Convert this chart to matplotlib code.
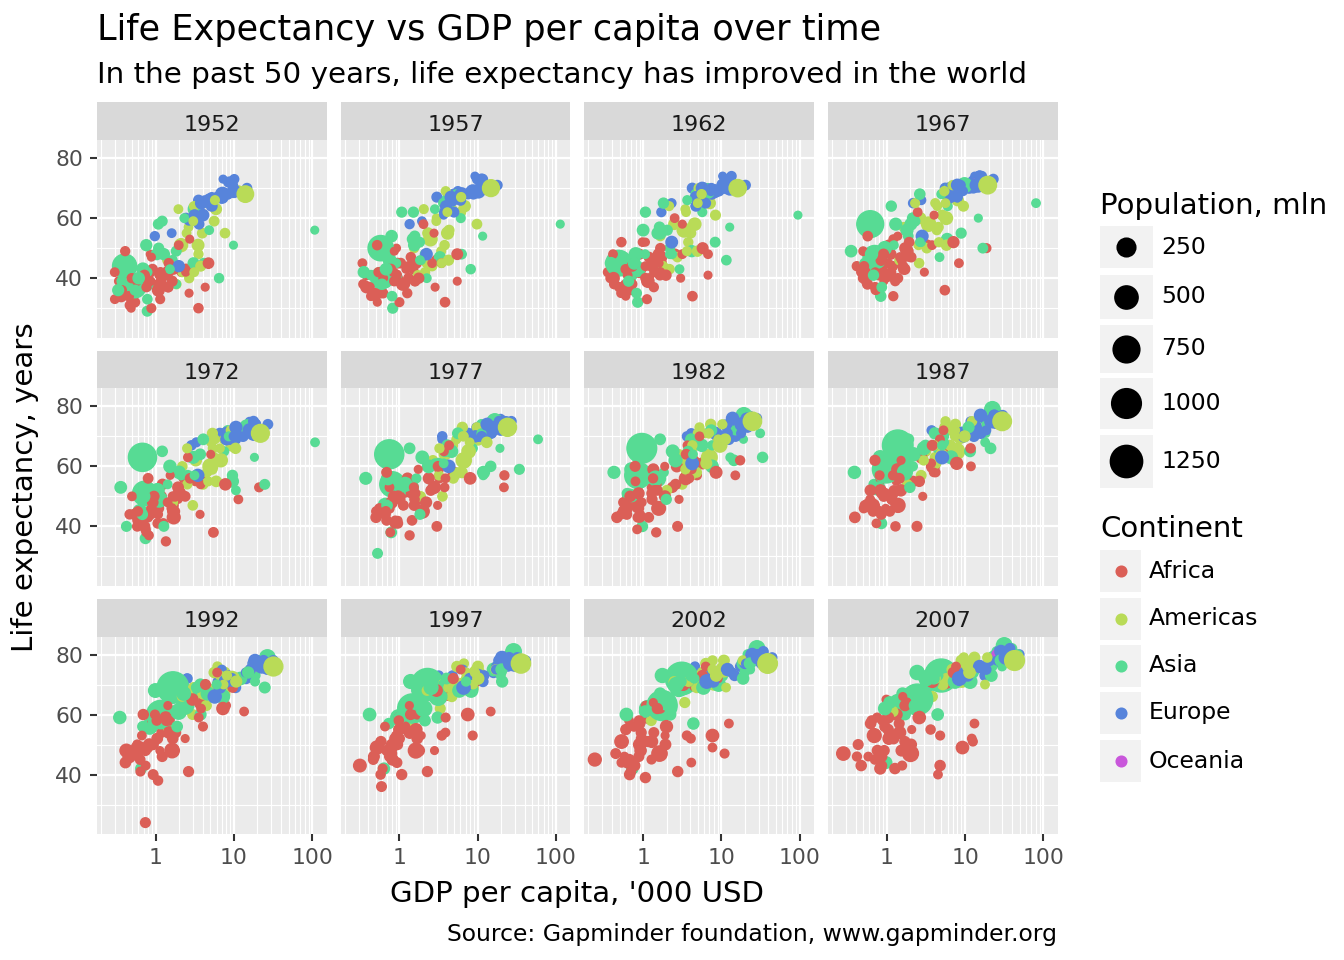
import numpy as np
import matplotlib
matplotlib.use("Agg")
import matplotlib.pyplot as plt
from matplotlib.patches import Rectangle

years = [1952, 1957, 1962, 1967, 1972, 1977, 1982, 1987, 1992, 1997, 2002, 2007]
continent_names = ["Africa", "Americas", "Asia", "Europe", "Oceania"]
continent_colors = ["#db5f57", "#b9db57", "#57db94", "#5784db", "#c957db"]
pop_breaks = [250, 500, 750, 1000, 1250]
x_breaks = [1, 10, 100]
x_labels = ["1", "10", "100"]
y_breaks = [40, 60, 80]

# ---------------- Africa ----------------
africa_countries = ["Algeria", "Angola", "Benin", "Botswana", "Burkina Faso", "Burundi", "Cameroon",
    "Central African Republic", "Chad", "Comoros", "Congo, Dem. Rep.", "Congo, Rep.", "Cote d'Ivoire",
    "Djibouti", "Egypt", "Equatorial Guinea", "Eritrea", "Ethiopia", "Gabon", "Gambia", "Ghana", "Guinea",
    "Guinea-Bissau", "Kenya", "Lesotho", "Liberia", "Libya", "Madagascar", "Malawi", "Mali", "Mauritania",
    "Mauritius", "Morocco", "Mozambique", "Namibia", "Niger", "Nigeria", "Reunion", "Rwanda",
    "Sao Tome and Principe", "Senegal", "Sierra Leone", "Somalia", "South Africa", "Sudan", "Swaziland",
    "Tanzania", "Togo", "Tunisia", "Uganda", "Zambia", "Zimbabwe"]
africa_life = [
    [43,46,48,51,55,58,61,66,68,69,71,72], [30,32,34,36,38,40,40,40,41,41,41,43],
    [38,40,43,45,47,49,51,52,54,55,54,57], [48,50,52,53,56,59,62,64,63,53,47,51],
    [32,35,38,41,44,46,48,50,50,50,51,52], [39,41,42,44,44,46,48,48,45,45,47,50],
    [39,40,43,45,47,49,53,55,54,52,50,50], [36,38,40,42,44,47,48,51,49,46,43,45],
    [38,40,42,44,46,47,50,51,52,52,51,51], [41,43,45,47,49,51,53,55,58,61,63,65],
    [39,41,42,44,46,48,48,47,46,43,45,47], [42,45,48,52,55,56,57,58,56,53,53,55],
    [41,43,45,47,50,52,54,55,52,48,47,48], [35,37,40,42,44,47,49,50,52,53,53,55],
    [42,44,47,49,51,53,56,60,64,67,70,71], [35,36,38,39,41,42,44,46,48,48,49,52],
    [36,38,40,42,44,45,44,47,50,53,56,58], [34,37,40,42,44,45,45,47,48,49,51,53],
    [37,39,41,45,49,53,57,60,61,61,57,57], [30,32,34,36,38,42,46,49,53,56,58,59],
    [43,45,47,48,50,52,54,56,58,59,59,60], [34,35,36,37,39,41,43,45,49,52,54,56],
    [33,34,35,36,37,38,39,41,43,45,46,46], [42,45,48,51,54,56,59,59,59,54,51,54],
    [42,45,48,49,50,53,55,57,60,56,45,43], [39,40,41,42,43,44,45,46,41,42,44,46],
    [43,45,48,50,53,57,62,66,69,71,73,74], [37,39,41,43,45,47,49,49,52,55,57,59],
    [36,37,38,40,42,44,46,48,49,48,45,48], [34,35,37,39,40,42,44,46,48,50,52,55],
    [41,42,44,46,48,51,54,56,58,60,62,64], [51,58,60,62,63,65,67,69,70,71,72,73],
    [43,45,48,50,53,56,60,63,65,68,70,71], [31,34,36,38,40,43,43,43,44,46,44,42],
    [42,45,48,51,54,56,59,61,62,59,52,53], [37,39,40,40,41,41,43,45,47,51,55,57],
    [36,38,39,41,43,45,46,47,48,48,47,47], [53,55,58,61,64,67,70,72,74,75,76,76],
    [40,42,43,44,45,45,46,44,24,36,43,46], [47,49,52,54,57,59,60,62,63,63,64,66],
    [37,39,42,44,46,49,52,56,58,60,62,63], [30,32,33,34,35,37,38,40,38,40,41,43],
    [33,35,37,39,41,42,43,45,40,44,46,48], [45,48,50,52,54,56,58,61,62,60,53,49],
    [39,40,41,43,45,48,50,52,54,55,56,59], [41,43,45,47,50,53,56,58,59,54,44,40],
    [41,43,44,46,48,50,51,52,50,49,50,53], [39,41,44,47,50,53,56,57,58,58,58,58],
    [45,47,50,52,56,60,64,67,70,72,73,74], [40,43,45,48,50,50,50,52,49,45,48,52],
    [42,44,46,48,50,51,52,51,46,40,39,42], [49,51,52,54,56,58,60,62,60,47,40,43]]
africa_gdp = [
    [2450,3010,2550,3250,4180,4910,5750,5680,5020,4800,5290,6220],
    [3520,3830,4270,5520,5470,3010,2760,2430,2630,2280,2770,4800],
    [1060,960,949,1040,1090,1030,1280,1230,1190,1230,1370,1440],
    [851,918,984,1210,2260,3210,4550,6210,7950,8650,11000,12600],
    [543,617,723,795,855,743,807,912,931,946,1040,1220],
    [339,380,355,413,464,556,560,622,632,463,446,430],
    [1170,1310,1400,1510,1680,1780,2370,2600,1790,1690,1930,2040],
    [1070,1190,1190,1140,1070,1110,957,845,748,741,739,706],
    [1180,1310,1390,1200,1100,1130,798,952,1060,1000,1160,1700],
    [1100,1210,1410,1880,1940,1170,1270,1320,1250,1170,1080,986],
    [781,906,896,862,905,796,674,673,458,312,241,278],
    [2130,2320,2460,2680,3210,3260,4880,4200,4020,3480,3630,3630],
    [1390,1500,1730,2050,2380,2520,2600,2160,1650,1790,1650,1540],
    [2670,2860,3020,3020,3690,3080,2880,2880,2380,1900,1910,2080],
    [1420,1460,1690,1820,2020,2790,3500,3890,3790,4170,4750,5580],
    [376,426,582,915,672,959,928,966,1130,2810,7700,12200],
    [329,344,381,469,514,505,524,521,582,913,765,641],
    [362,379,419,516,566,556,577,574,421,516,530,691],
    [4290,5490,6760,8360,11400,21700,15100,11900,13500,14700,12500,13200],
    [485,521,600,735,757,884,835,612,665,653,661,753],
    [911,1040,1190,1130,1180,993,876,848,925,1010,1110,1330],
    [510,576,686,708,741,874,857,805,794,870,945,943],
    [300,432,522,716,820,765,838,736,745,797,576,580],
    [854,944,897,1060,1220,1270,1350,1360,1340,1360,1290,1460],
    [299,336,412,498,497,746,798,808,977,1190,1280,1570],
    [575,620,634,714,803,640,573,507,637,610,531,415],
    [2390,3450,6760,18800,21000,22000,17400,11800,9640,9470,9530,12100],
    [1440,1590,1640,1630,1750,1540,1300,1160,1040,986,895,1040],
    [369,416,427,496,585,663,633,635,563,692,665,759],
    [452,490,497,545,581,686,618,684,739,790,952,1040],
    [744,837,1220,1550,1420,1390,1490,1470,1510,1680,1660,1800],
    [1970,2030,2530,2480,2580,3710,3690,4780,6060,7430,9020,11000],
    [1690,1640,1570,1710,1930,2370,2700,2760,2950,2980,3260,3820],
    [469,495,556,566,724,502,462,390,410,472,633,824],
    [2420,2620,3170,3790,3750,3880,4190,3690,3800,3900,4070,4810],
    [762,860,1070,1390,1060,953,909,668,582,580,601,620],
    [1080,1100,1150,1010,1700,1980,1580,1390,1620,1620,1620,2010],
    [2720,2770,3170,4020,5050,4320,5270,5300,6100,6070,6320,7670],
    [493,540,597,511,591,670,882,848,737,590,786,863],
    [880,861,1070,1380,1530,1740,1890,1520,1430,1340,1350,1600],
    [1450,1570,1650,1610,1600,1560,1520,1440,1370,1390,1520,1710],
    [879,1000,1120,1210,1350,1350,1470,1290,1070,575,699,863],
    [1140,1260,1370,1280,1250,1450,1180,1090,927,930,882,926],
    [4730,5490,5770,7110,7770,8030,8570,7830,7230,7480,7710,9270],
    [1620,1770,1960,1690,1660,2200,1900,1510,1490,1630,1990,2600],
    [1150,1240,1600,1710,2310,3780,3900,3980,3550,3880,4130,4510],
    [717,698,722,849,916,962,875,831,825,790,899,1110],
    [859,925,1070,1480,1650,1530,1340,1200,1030,982,886,883],
    [1470,1400,1660,1930,2750,3120,3560,3810,4330,4880,5720,7090],
    [735,774,768,909,950,844,682,618,645,817,928,1060],
    [1150,1310,1450,1780,1770,1590,1410,1210,1210,1070,1070,1270],
    [407,519,527,570,800,686,789,706,693,792,672,470]]
africa_pop = [
    [9,10,11,13,15,17,20,23,26,29,31,33], [4,5,5,5,6,6,7,8,9,10,11,12],
    [2,2,2,2,3,3,4,4,5,6,7,8], [0,0,1,1,1,1,1,1,1,2,2,2],
    [4,5,5,5,6,6,7,8,9,10,12,14], [2,3,3,3,4,4,5,5,6,6,7,8],
    [5,5,6,6,7,8,9,11,12,14,16,18], [1,1,2,2,2,2,2,3,3,4,4,4],
    [3,3,3,3,4,4,5,6,6,8,9,10], [0,0,0,0,0,0,0,0,0,1,1,1],
    [14,16,18,20,23,27,31,36,42,48,55,65], [1,1,1,1,1,2,2,2,2,3,3,4],
    [3,3,4,5,6,8,9,11,13,15,16,18], [0,0,0,0,0,0,0,0,0,0,0,0],
    [22,25,28,32,35,39,46,53,59,66,73,80], [0,0,0,0,0,0,0,0,0,0,1,1],
    [1,2,2,2,2,3,3,3,3,4,4,5], [21,23,25,28,31,35,38,43,52,60,67,77],
    [0,0,0,1,1,1,1,1,1,1,1,1], [0,0,0,0,1,1,1,1,1,1,1,2],
    [6,6,7,9,9,11,12,14,16,18,21,23], [3,3,3,4,4,5,5,6,7,8,9,10],
    [1,1,1,1,1,1,1,1,1,1,1,1], [6,7,9,10,12,15,18,21,25,28,31,36],
    [1,1,1,1,1,1,1,2,2,2,2,2], [1,1,1,1,2,2,2,2,2,2,3,3],
    [1,1,1,2,2,3,3,4,5,5,6,6], [5,5,6,6,7,8,9,11,12,14,17,19],
    [3,3,4,4,5,6,7,8,10,10,11,13], [4,4,4,5,5,6,7,8,8,10,11,12],
    [1,1,1,1,1,1,2,2,2,2,3,3], [1,1,1,1,1,1,1,1,1,1,1,1],
    [10,11,13,15,16,18,20,22,25,28,31,34], [6,7,8,8,9,11,12,14,14,17,18,20],
    [0,1,1,1,1,1,1,1,1,2,2,2], [3,4,4,4,5,6,6,7,8,10,11,13],
    [33,37,42,47,54,62,73,82,93,106,120,135], [0,0,0,0,0,1,1,1,1,1,1,1],
    [3,3,3,3,4,5,6,7,8,7,8,9], [0,0,0,0,0,0,0,0,0,0,0,0],
    [3,3,3,4,4,5,6,7,8,9,10,12], [2,2,2,3,3,3,3,4,4,4,5,6],
    [2,3,3,3,4,5,6,6,7,7,8,9], [14,16,18,21,24,27,31,36,40,43,44,44],
    [9,10,11,13,15,17,20,24,29,33,37,42], [0,0,0,0,0,1,1,1,1,1,1,1],
    [8,9,10,12,14,17,20,23,26,31,35,38], [1,1,1,2,2,2,3,3,4,4,5,5],
    [4,4,4,5,5,6,7,8,8,9,10,10], [6,7,8,9,10,12,13,16,19,21,25,29],
    [3,3,3,4,5,5,6,7,8,10,11,12], [3,4,4,5,6,7,8,9,11,12,12,12]]

# ---------------- Americas ----------------
americas_countries = ["Argentina", "Bolivia", "Brazil", "Canada", "Chile", "Colombia", "Costa Rica", "Cuba",
    "Dominican Republic", "Ecuador", "El Salvador", "Guatemala", "Haiti", "Honduras", "Jamaica", "Mexico",
    "Nicaragua", "Panama", "Paraguay", "Peru", "Puerto Rico", "Trinidad and Tobago", "United States",
    "Uruguay", "Venezuela"]
americas_life = [
    [63,64,65,66,67,69,70,71,72,73,74,75], [40,42,43,45,47,50,54,57,60,62,64,66],
    [51,53,56,58,60,62,63,65,67,69,71,72], [69,70,71,72,73,74,76,77,78,79,80,81],
    [55,56,58,61,63,67,71,73,74,76,78,79], [51,55,58,60,62,64,67,68,68,70,72,73],
    [57,60,63,65,68,71,73,75,76,77,78,79], [59,62,65,68,71,73,74,74,74,76,77,78],
    [46,50,54,57,60,62,64,66,69,70,71,72], [48,51,55,57,59,61,64,67,70,72,74,75],
    [45,49,52,56,58,57,57,63,67,70,71,72], [42,44,47,50,54,56,58,61,63,66,69,70],
    [38,41,44,46,48,50,52,54,55,57,58,61], [42,45,48,51,54,57,61,65,66,68,69,70],
    [59,63,66,68,69,70,71,72,72,72,72,73], [51,55,58,60,62,65,67,70,72,74,75,76],
    [42,45,49,52,55,58,59,62,66,68,71,73], [55,59,62,64,66,69,71,72,73,74,75,76],
    [63,63,64,65,66,66,67,67,68,69,71,72], [44,46,49,51,55,58,61,64,67,68,70,71],
    [64,69,70,71,72,73,74,75,74,75,78,79], [59,62,65,65,66,68,69,70,70,70,69,70],
    [68,70,70,71,71,73,75,75,76,77,77,78], [66,67,68,69,69,70,71,72,73,74,75,76],
    [55,58,61,64,66,68,69,70,71,72,73,74]]
americas_gdp = [
    [5910,6860,7130,8050,9440,10100,9000,9140,9310,11000,8800,12800],
    [2680,2130,2180,2590,2980,3550,3160,2750,2960,3330,3410,3820],
    [2110,2490,3340,3430,4990,6660,7030,7810,6950,7960,8130,9070],
    [11400,12500,13500,16100,19000,22100,22900,26600,26300,29000,33300,36300],
    [3940,4320,4520,5110,5490,4760,5100,5550,7600,10100,10800,13200],
    [2140,2320,2490,2680,3260,3820,4400,4900,5440,6120,5760,7010],
    [2630,2990,3460,4160,5120,5930,5260,5630,6160,6680,7720,9650],
    [5590,6090,5180,5690,5310,6380,7320,7530,5590,5430,6340,8950],
    [1400,1540,1660,1650,2190,2680,2860,2900,3040,3610,4560,6030],
    [3520,3780,4090,4580,5280,6680,7210,6480,7100,7430,5770,6870],
    [3050,3420,3780,4360,4520,5140,4100,4140,4440,5150,5350,5730],
    [2430,2620,2750,3240,4030,4880,4820,4250,4440,4680,4860,5190],
    [1840,1730,1800,1450,1650,1870,2010,1820,1460,1340,1270,1200],
    [2190,2220,2290,2540,2530,3200,3120,3160,3080,3160,3100,3550],
    [2900,4760,5250,6120,7430,6650,6070,6350,7400,7120,7000,7320],
    [3480,4130,4580,5750,6810,7670,9610,8690,9470,9770,10700,12000],
    [3110,3460,3630,4640,4690,5490,3470,2960,2170,2250,2470,2750],
    [2480,2960,3540,4420,5360,5350,7010,7030,6620,7110,7360,9810],
    [1950,2050,2150,2300,2520,3250,4260,4000,4200,4250,3780,4170],
    [3760,4250,4960,5790,5940,6280,6430,5000,4070,5270,5910,7410],
    [3080,3910,5110,6930,9120,9770,10300,12300,14600,17000,18900,19300],
    [3020,4100,5000,5620,6620,7900,9120,7390,7370,8790,11500,18000],
    [14000,14800,16200,19500,21800,24100,25000,29900,32000,35800,39100,43000],
    [5720,6150,5600,5440,5700,6500,6920,7450,8140,9230,7730,10600],
    [7690,9800,8420,9540,10500,13100,11200,9880,10700,10200,8610,11400]]
americas_pop = [
    [18,20,21,23,25,27,29,32,34,36,38,40], [3,3,4,4,5,5,6,7,7,8,9,9],
    [57,66,76,88,101,114,129,143,156,169,180,190], [15,17,19,21,22,24,25,26,29,30,31,33],
    [6,7,8,9,10,11,12,13,14,15,16,16], [12,14,17,19,22,25,28,31,34,37,41,44],
    [1,1,1,2,2,2,2,3,3,3,4,4], [6,7,7,8,9,10,10,10,11,11,11,11],
    [2,3,3,4,4,5,6,7,7,8,9,9], [3,4,5,5,6,7,8,10,11,12,12,14],
    [2,2,3,3,4,4,5,5,5,6,6,7], [3,4,4,5,6,6,7,8,9,10,11,13],
    [3,3,4,4,5,5,6,6,7,7,8,8], [2,2,2,2,3,3,4,5,5,6,7,8],
    [1,1,2,2,2,2,2,2,2,3,3,3], [30,35,41,48,56,64,72,80,88,96,103,109],
    [1,1,2,2,2,3,3,4,4,5,5,6], [1,1,1,1,2,2,2,2,2,3,3,3],
    [1,2,2,2,2,3,3,4,4,5,6,7], [8,9,11,12,14,16,18,20,22,25,27,29],
    [2,2,2,3,3,3,3,4,4,4,4,4], [1,1,1,1,1,1,1,1,1,1,1,1],
    [158,172,187,199,210,220,232,243,257,273,288,301], [2,3,3,3,3,3,3,3,3,3,3,3],
    [5,6,8,9,11,13,15,18,20,22,25,26]]

# ---------------- Asia ----------------
asia_countries = ["Afghanistan", "Bahrain", "Bangladesh", "Cambodia", "China", "Hong Kong, China", "India",
    "Indonesia", "Iran", "Iraq", "Israel", "Japan", "Jordan", "Korea, Dem. Rep.", "Korea, Rep.", "Kuwait",
    "Lebanon", "Malaysia", "Mongolia", "Myanmar", "Nepal", "Oman", "Pakistan", "Philippines", "Saudi Arabia",
    "Singapore", "Sri Lanka", "Syria", "Taiwan", "Thailand", "Vietnam", "West Bank and Gaza", "Yemen, Rep."]
asia_life = [
    [29,30,32,34,36,38,40,41,42,42,42,44], [51,54,57,60,63,66,69,71,73,74,75,76],
    [38,39,41,44,45,47,50,53,56,59,62,64], [39,41,43,45,40,31,51,54,56,57,57,60],
    [44,50,45,58,63,64,66,67,69,70,72,73], [61,65,68,70,72,74,75,76,78,80,82,82],
    [37,40,44,47,51,54,57,59,60,62,63,65], [38,40,43,46,49,53,56,60,63,66,69,71],
    [45,47,49,53,55,58,60,63,66,68,70,71], [45,48,52,55,57,60,62,65,60,59,57,60],
    [65,68,69,71,72,73,74,76,77,78,80,81], [63,66,69,71,73,75,77,79,79,81,82,83],
    [43,46,48,52,57,61,64,66,68,70,71,73], [50,54,57,60,64,67,69,71,70,68,67,67],
    [48,53,55,58,63,65,67,70,72,75,77,79], [56,58,61,65,68,69,71,74,75,76,77,78],
    [56,60,62,64,65,66,67,68,69,70,71,72], [49,52,56,59,63,65,68,70,71,72,73,74],
    [42,45,48,51,54,56,58,60,61,64,65,67], [36,42,45,49,53,56,58,58,59,60,60,62],
    [36,38,39,41,44,47,50,53,56,59,61,64], [38,40,43,47,52,57,63,68,71,73,74,76],
    [43,46,48,50,52,54,56,58,61,62,64,66], [48,51,55,56,58,60,62,64,67,69,70,72],
    [40,43,46,50,54,59,63,66,69,71,72,73], [60,63,66,68,70,71,72,74,76,77,79,80],
    [58,62,62,64,65,66,69,69,70,71,71,72], [46,48,50,54,57,61,65,67,69,72,73,74],
    [59,62,65,68,69,71,72,73,74,75,77,78], [51,54,56,58,60,63,65,66,67,68,69,71],
    [40,43,45,48,50,56,59,63,68,71,73,74], [43,46,48,52,57,61,64,67,70,71,72,73],
    [33,34,35,37,40,44,49,53,56,58,60,63]]
asia_gdp = [
    [779,821,853,836,740,786,978,852,649,635,727,975],
    [9870,11600,12800,14800,18300,19300,19200,18500,19000,20300,23400,29800],
    [684,662,686,721,630,660,677,752,837,973,1140,1390],
    [368,434,497,523,422,525,624,684,682,734,896,1710],
    [400,576,488,613,677,741,962,1380,1660,2290,3120,4960],
    [3050,3630,4690,6200,8320,11200,14600,20000,24800,28400,30200,39700],
    [547,590,658,700,724,813,856,977,1160,1460,1750,2450],
    [750,859,849,762,1110,1380,1520,1750,2380,3120,2870,3540],
    [3040,3290,4190,5910,9610,11900,7610,6640,7240,8260,9240,11600],
    [4130,6230,8340,8930,9580,14700,14500,11600,3750,3080,4390,4470],
    [4090,5390,7110,8390,12800,13300,15400,17100,18100,20900,21900,25500],
    [3220,4320,6580,9850,14800,16600,19400,22400,26800,28800,28600,31700],
    [1550,1890,2350,2740,2110,2850,4160,4450,3430,3650,3840,4520],
    [1090,1570,1620,2140,3700,4110,4110,4110,3730,1690,1650,1590],
    [1030,1490,1540,2030,3030,4660,5620,8530,12100,16000,19200,23300],
    [108000,114000,95500,80900,109000,59300,31400,28100,34900,40300,35100,47300],
    [4830,6090,5710,6010,7490,8660,7640,5380,6890,8750,9310,10500],
    [1830,1810,2040,2280,2850,3830,4920,5250,7280,10100,10200,12500],
    [787,912,1060,1230,1420,1650,1840,2160,1780,1900,2140,3100],
    [331,350,388,349,357,371,424,385,347,415,611,944],
    [546,598,652,676,674,695,719,776,898,1010,1060,1090],
    [1830,2240,2920,4720,10600,11800,13000,18100,18600,19700,19800,22300],
    [685,748,804,942,1050,1180,1440,1700,1970,2050,2090,2610],
    [1270,1550,1650,1810,1990,2370,2600,2190,2280,2540,2650,3190],
    [6460,8160,11600,16900,24800,34200,33700,21200,24800,20600,19000,21700],
    [2320,2840,3670,4980,8600,11200,15200,18900,24800,33500,36000,47100],
    [1080,1070,1070,1140,1210,1350,1650,1880,2150,2660,3020,3970],
    [1640,2120,2190,1880,2570,3190,3760,3120,3340,4010,4090,4180],
    [1210,1510,1820,2640,4060,5600,7430,11100,15200,20200,23200,28700],
    [757,794,1000,1300,1520,1960,2390,2980,4620,5850,5910,7460],
    [605,676,772,637,700,714,707,821,989,1390,1760,2440],
    [1520,1830,2200,2650,3130,3680,4340,5110,6020,7110,4520,3030],
    [782,805,826,862,1270,1830,1980,1970,1880,2120,2230,2280]]
asia_pop = [
    [8,9,10,12,13,15,13,14,16,22,25,32], [0,0,0,0,0,0,0,0,1,1,1,1],
    [47,51,57,63,71,80,93,104,114,123,136,150], [5,5,6,7,8,7,7,8,10,12,13,14],
    [556,637,666,755,862,944,1000,1084,1165,1230,1280,1319], [2,3,4,4,4,5,5,6,6,7,7,7],
    [372,409,454,506,567,634,708,788,872,959,1034,1110], [82,90,99,109,121,137,153,169,185,199,211,224],
    [17,19,22,26,30,35,43,51,60,63,67,70], [6,6,7,9,10,12,14,16,18,21,24,27],
    [2,2,2,3,3,4,4,4,5,6,6,6], [87,92,96,101,107,114,118,122,124,126,127,128],
    [1,1,1,1,2,2,2,3,4,5,5,6], [9,10,11,13,15,16,18,20,21,22,22,23],
    [21,23,27,30,33,36,39,42,44,46,47,49], [0,0,0,1,1,1,1,2,1,2,2,2],
    [1,2,2,2,3,3,3,3,4,4,4,4], [7,7,8,10,11,13,15,17,19,21,23,24],
    [1,1,1,1,1,2,2,2,2,3,3,3], [20,22,24,26,29,32,35,38,40,43,45,48],
    [9,10,10,11,12,14,16,18,20,23,25,29], [1,1,1,1,1,1,1,1,2,2,3,3],
    [41,47,53,61,69,78,92,105,120,136,153,169], [22,26,31,36,41,47,53,60,67,75,83,91],
    [4,4,5,6,7,8,11,14,17,21,24,28], [1,1,2,2,2,2,3,3,3,4,4,4],
    [8,9,10,11,13,14,15,16,17,18,19,20], [4,4,5,6,7,8,9,11,13,15,17,19],
    [8,10,11,13,15,16,18,19,21,21,22,23], [21,25,29,34,39,44,48,53,56,60,62,65],
    [26,29,34,39,44,50,56,62,70,76,80,85], [1,1,1,1,1,1,1,2,2,3,3,4],
    [5,5,6,6,7,8,9,11,14,16,19,22]]

# ---------------- Europe ----------------
europe_countries = ["Albania", "Austria", "Belgium", "Bosnia and Herzegovina", "Bulgaria", "Croatia",
    "Czech Republic", "Denmark", "Finland", "France", "Germany", "Greece", "Hungary", "Iceland", "Ireland",
    "Italy", "Montenegro", "Netherlands", "Norway", "Poland", "Portugal", "Romania", "Serbia",
    "Slovak Republic", "Slovenia", "Spain", "Sweden", "Switzerland", "Turkey", "United Kingdom"]
europe_life = [
    [55,59,65,66,68,69,70,72,72,73,76,76], [67,68,70,70,71,72,73,75,76,78,79,80],
    [68,69,70,71,71,73,74,75,77,78,78,79], [54,58,62,65,67,70,71,71,72,73,74,75],
    [60,67,70,70,71,71,71,71,71,70,72,73], [61,65,67,69,70,71,71,72,73,74,75,76],
    [67,69,70,70,70,71,71,72,72,74,76,77], [71,72,72,73,74,75,75,75,75,76,77,78],
    [67,68,69,70,71,73,75,75,76,77,78,79], [67,69,71,72,72,74,75,76,78,79,80,81],
    [68,69,70,71,71,73,74,75,76,77,79,79], [66,68,70,71,72,74,75,77,77,78,78,80],
    [64,66,68,70,70,70,69,70,69,71,73,73], [73,74,74,74,75,76,77,77,79,79,81,82],
    [67,69,70,71,71,72,73,74,76,76,78,79], [66,68,69,71,72,74,75,76,77,79,80,81],
    [59,61,64,67,71,73,74,75,75,75,74,75], [72,73,73,74,74,75,76,77,77,78,79,80],
    [73,73,74,74,74,75,76,76,77,78,79,80], [61,66,68,70,71,71,71,71,71,73,75,76],
    [60,62,64,67,69,70,73,74,75,76,77,78], [61,64,67,67,69,70,70,70,69,70,71,73],
    [58,62,65,67,69,70,70,71,72,72,73,74], [64,67,70,71,70,70,71,71,71,73,74,75],
    [66,68,69,69,70,71,71,72,74,75,77,78], [65,67,70,71,73,74,76,77,78,79,80,81],
    [72,73,73,74,75,75,76,77,78,79,80,81], [70,71,71,73,74,75,76,77,78,79,81,82],
    [44,48,52,54,57,60,61,63,66,69,71,72], [69,70,71,71,72,73,74,75,76,77,79,79]]
europe_gdp = [
    [1600,1940,2310,2760,3310,3530,3630,3740,2500,3190,4600,5940],
    [6140,8840,10800,12800,16700,19700,21600,23700,27000,29100,32400,36100],
    [8340,9710,11000,13100,16700,19100,21000,22500,25600,27600,30500,33700],
    [974,1350,1710,2170,2860,3530,4130,4310,2550,4770,6020,7450],
    [2440,3010,4250,5580,6600,7610,8220,8240,6300,5970,7700,10700],
    [3120,4340,5480,6960,9160,11300,13200,13800,8450,9880,11600,14600],
    [6880,8260,10100,11400,13100,14800,15400,16300,14300,16000,17600,22800],
    [9690,11100,13600,15900,18900,20400,21700,25100,26400,29800,32200,35300],
    [6420,7550,9370,10900,14400,15600,18500,21100,20600,23700,28200,33200],
    [7030,8660,10600,13000,16100,18300,20300,22100,24700,25900,28900,30500],
    [7140,10200,12900,14700,18000,20500,22000,24600,26500,27800,30000,32200],
    [3530,4920,6020,8510,12700,14200,15300,16100,17500,18700,22500,27500],
    [5260,6040,7550,9330,10200,11700,12500,13000,10500,11700,14800,18000],
    [7270,9240,10400,13300,15800,19700,23300,26900,25100,28100,31200,36200],
    [5210,5600,6630,7660,9530,11200,12600,13900,17600,24500,34100,40700],
    [4930,6250,8240,10000,12300,14300,16500,19200,22000,24700,28000,28600],
    [2650,3680,4650,5910,7780,9600,11200,11700,7000,6470,6560,9250],
    [8940,11300,12800,15400,18800,21200,21400,23700,26800,30200,33700,36800],
    [10100,11700,13500,16400,19000,23300,26300,31500,34000,41300,44700,49400],
    [4030,4730,5340,6560,8010,9510,8450,9080,7740,10200,12000,15400],
    [3070,3770,4730,6360,9020,10200,11800,13000,16200,17600,20000,20500],
    [3140,3940,4730,6470,8010,9360,9600,9700,6600,7350,7890,10800],
    [3580,4980,6290,7990,10500,13000,15200,15900,9330,7910,7240,9790],
    [5070,6090,7480,8770,10000,11300,12000,13900,9500,12100,13600,18700],
    [4220,5860,7400,9410,12400,15300,17900,18700,14200,17200,20700,25800],
    [3830,4560,5690,7990,10600,13200,13900,15800,18600,20400,24800,28800],
    [8530,9910,12300,15300,17800,18900,20700,23600,23900,25300,29300,33900],
    [14700,17900,20400,23000,27200,27000,28400,30300,31900,32100,34500,37500],
    [1970,2220,2320,2830,3450,4270,4240,5090,5680,6600,6510,8460],
    [9980,11300,12500,14100,15900,17400,18200,21700,22700,26100,29500,33200]]
europe_pop = [
    [1,1,2,2,2,2,3,3,3,3,3,4], [7,7,7,7,8,8,8,8,8,8,8,8],
    [9,9,9,10,10,10,10,10,10,10,10,10], [3,3,3,4,4,4,4,4,4,4,4,5],
    [7,8,8,8,9,9,9,9,9,8,8,7], [4,4,4,4,4,4,5,5,5,4,4,4],
    [9,10,10,10,10,10,10,10,10,10,10,10], [4,4,5,5,5,5,5,5,5,5,5,5],
    [4,4,5,5,5,5,5,5,5,5,5,5], [42,45,48,50,52,53,55,56,58,59,60,61],
    [69,71,74,76,79,78,78,78,81,82,82,82], [8,8,8,9,9,9,10,10,10,11,11,11],
    [9,10,10,10,10,11,11,11,10,10,10,10], [0,0,0,0,0,0,0,0,0,0,0,0],
    [3,3,3,3,3,3,3,4,4,4,4,4], [48,49,51,53,55,56,57,57,57,57,57,58],
    [0,0,0,0,1,1,1,1,1,1,1,1], [10,11,12,13,13,14,14,15,15,16,16,16],
    [3,3,4,4,4,4,4,4,4,4,5,5], [26,28,30,32,33,35,36,38,38,39,38,39],
    [8,9,9,9,9,10,10,10,10,10,10,11], [16,18,19,19,21,22,23,23,23,22,22,22],
    [7,7,8,8,9,9,9,10,10,10,10,10], [3,4,4,4,5,5,5,5,5,5,5,5],
    [1,1,2,2,2,2,2,2,2,2,2,2], [28,30,31,33,35,36,38,39,39,40,40,40],
    [7,7,8,8,8,8,8,8,9,9,9,9], [5,5,6,6,6,6,6,7,7,7,7,8],
    [22,26,30,33,38,42,47,53,58,63,67,71], [50,51,53,55,56,56,56,57,58,59,60,61]]

# ---------------- Oceania ----------------
oceania_countries = ["Australia", "New Zealand"]
oceania_life = [[69,70,71,71,72,74,75,76,78,79,80,81], [69,70,71,72,72,72,74,74,76,78,79,80]]
oceania_gdp = [[10000,11000,12200,14500,16800,18300,19500,21900,23400,27000,30700,34400],
               [10600,12200,13200,14500,16000,16200,17600,19000,18400,21100,23200,25200]]
oceania_pop = [[9,10,11,12,13,14,15,16,18,18,20,20], [2,2,2,3,3,3,3,3,3,4,4,4]]

# ---------------- assemble (data order = alphabetical by country) ----------------
groups = [(africa_countries, africa_life, africa_gdp, africa_pop),
          (americas_countries, americas_life, americas_gdp, americas_pop),
          (asia_countries, asia_life, asia_gdp, asia_pop),
          (europe_countries, europe_life, europe_gdp, europe_pop),
          (oceania_countries, oceania_life, oceania_gdp, oceania_pop)]
rows = []
for ci, (names, life, gdp, pop) in enumerate(groups):
    for n, l, g, p in zip(names, life, gdp, pop):
        rows.append((n, ci, l, g, p))
rows.sort(key=lambda r: r[0])

all_pop = np.array([v for r in rows for v in r[4]], float)
pmin, pmax = all_pop.min(), all_pop.max()


def marker_area(p):
    s = 1 + 5 * np.sqrt((np.asarray(p, float) - pmin) / (pmax - pmin))
    return ((s + 0.5) * 1.82) ** 2


EDGE_LW = 0.55

W, H = 1344, 960
plt.rcParams["font.family"] = ["DejaVu Sans"]
fig = plt.figure(figsize=(W / 200, H / 200), dpi=200)
fig.patch.set_facecolor("white")


def add_px_axes(l, t, r, b, **kw):
    return fig.add_axes([l / W, 1 - b / H, (r - l) / W, (b - t) / H], **kw)


def ftext(x, y, s, **kw):
    fig.text(x / W, 1 - y / H, s, **kw)


col_left = [97.0, 340.7, 584.4, 828.1]
panel_w = 229.5
strip_top = [102.3, 350.5, 598.7]
strip_h = 37.8
panel_h = 197.5

xlim = (10 ** -0.751, 10 ** 2.184)
ylim = (20.2, 86.0)
minor_x = [m * 10.0 ** e for e in (-1, 0, 1, 2) for m in range(2, 10)]
minor_y = [30, 50, 70]

for i, yr in enumerate(years):
    r, c = divmod(i, 4)
    L = col_left[c]
    T = strip_top[r]
    # strip
    sax = add_px_axes(L, T, L + panel_w, T + strip_h)
    sax.set_facecolor("#D9D9D9")
    sax.set_xticks([]); sax.set_yticks([])
    for sp in sax.spines.values():
        sp.set_visible(False)
    sax.text(0.5, 1 - 28.7 / strip_h, str(yr), ha="center", va="baseline", fontsize=8.0,
             color="#1A1A1A", transform=sax.transAxes)
    # panel
    ax = add_px_axes(L, T + strip_h, L + panel_w, T + strip_h + panel_h)
    ax.set_facecolor("#EBEBEB")
    ax.set_xscale("log")
    ax.set_xticks(x_breaks)
    ax.set_xticklabels(x_labels)
    ax.set_xticks(minor_x, minor=True)
    ax.set_yticks(y_breaks)
    ax.set_yticklabels([str(v) for v in y_breaks])
    ax.set_yticks(minor_y, minor=True)
    ax.set_xlim(*xlim)
    ax.set_ylim(*ylim)
    ax.tick_params(which="minor", length=0, labelbottom=False, labelleft=False)
    ax.grid(True, which="major", color="white", linewidth=0.8)
    ax.grid(True, which="minor", color="white", linewidth=0.4)
    ax.set_axisbelow(True)
    for sp in ax.spines.values():
        sp.set_visible(False)
    ax.tick_params(which="major", direction="out", length=2.6, width=0.75, color="#333333",
                   labelsize=7.9, labelcolor="#4D4D4D", pad=2.4)
    if r != 2:
        ax.tick_params(which="major", bottom=False, labelbottom=False)
    if c != 0:
        ax.tick_params(which="major", left=False, labelleft=False)

    xs = np.array([row[3][i] for row in rows], float) / 1000.0
    ys = np.array([row[2][i] for row in rows], float)
    ps = np.array([row[4][i] for row in rows], float)
    cols = [continent_colors[row[1]] for row in rows]
    ax.scatter(xs, ys, s=marker_area(ps), c=cols, edgecolors=cols, linewidths=EDGE_LW, zorder=3)
    ax.set_xlim(*xlim)
    ax.set_ylim(*ylim)

# titles & labels
ftext(97, 40, "Life Expectancy vs GDP per capita over time", fontsize=12.65, ha="left", va="baseline",
      color="black")
ftext(97, 82.7, "In the past 50 years, life expectancy has improved in the world", fontsize=10.58,
      ha="left", va="baseline", color="black")
ftext(577, 902, "GDP per capita, '000 USD", fontsize=10.55, ha="center", va="baseline", color="black")
ftext(25, 487, "Life expectancy, years", fontsize=10.55, ha="center", va="center", rotation=90,
      color="black")
ftext(1057, 941, "Source: Gapminder foundation, www.gapminder.org", fontsize=8.45, ha="right",
      va="baseline", color="black")

# legends (overlay axes in pixel coordinates)
lax = fig.add_axes([0, 0, 1, 1], zorder=10)
lax.set_xlim(0, W)
lax.set_ylim(H, 0)
lax.axis("off")

lax.text(1100, 214, "Population, mln", fontsize=10.55, ha="left", va="baseline", color="black")
pop_key_c = [247.0, 296.5, 348.8, 403.4, 461.3]
pop_key_h = [42.8, 44.0, 47.5, 50.8, 52.8]
for b, cy, hh in zip(pop_breaks, pop_key_c, pop_key_h):
    lax.add_patch(Rectangle((1100, cy - hh / 2), 52.5, hh, facecolor="#F2F2F2", edgecolor="none"))
    lax.scatter([1126.2], [cy], s=marker_area(b), c="black", edgecolors="black", linewidths=EDGE_LW)
    lax.text(1161, cy, str(b), fontsize=8.45, ha="left", va="center", color="black")

lax.text(1100, 537, "Continent", fontsize=10.55, ha="left", va="baseline", color="black")
cont_key_c = [571.0, 618.5, 666.0, 713.0, 761.0]
for name, col, cy in zip(continent_names, continent_colors, cont_key_c):
    lax.add_patch(Rectangle((1100, cy - 21), 41, 42, facecolor="#F2F2F2", edgecolor="none"))
    lax.scatter([1120.5], [cy], s=(3.8) ** 2, c=col, edgecolors=col, linewidths=EDGE_LW)
    lax.text(1148.6, cy, name, fontsize=8.45, ha="left", va="center", color="black")

fig.savefig("out.png", dpi=200, facecolor="white")
